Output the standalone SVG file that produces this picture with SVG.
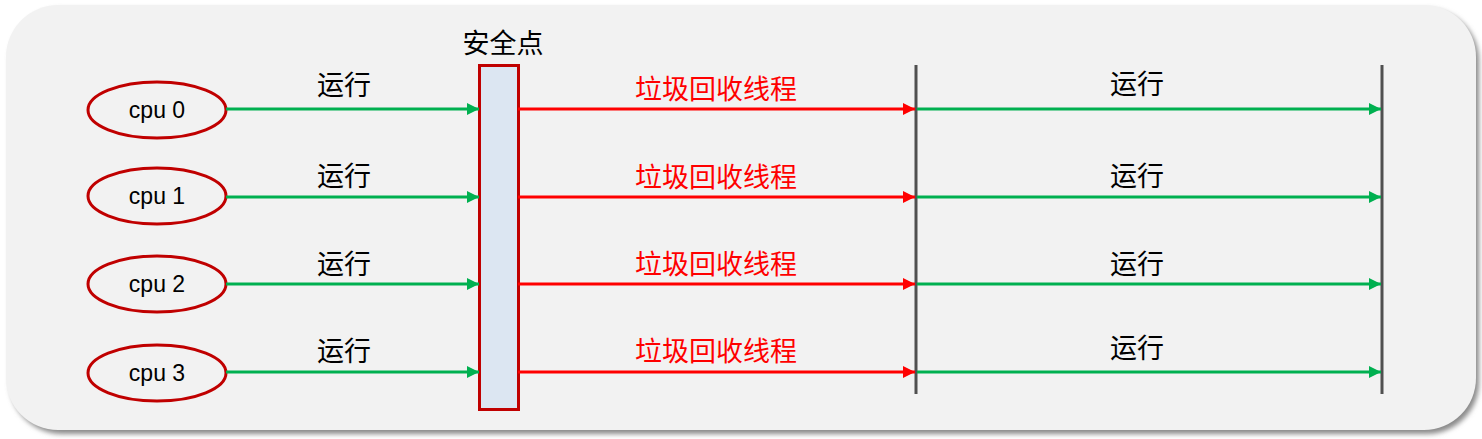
<svg xmlns="http://www.w3.org/2000/svg" width="1482" height="439" viewBox="0 0 1482 439">
<style>
.cjk{font-family:"Noto Sans CJK SC","Noto Sans CJK JP",sans-serif;font-size:27px;text-anchor:middle}
.run{fill:#000}
.gc{fill:#ff0000}
.cpu{fill:none;stroke:#c00000;stroke-width:3}
.cput{font-family:"Liberation Sans",Arial,sans-serif;font-size:23px;text-anchor:middle;fill:#000}
.g{stroke:#00b050;stroke-width:3;fill:none}
.r{stroke:#ff0000;stroke-width:3;fill:none}
.v{stroke:#505050;stroke-width:3}
</style>
<defs>
<filter id="sh" x="-5%" y="-5%" width="110%" height="115%"><feGaussianBlur stdDeviation="2.5"/></filter>
<marker id="ag" viewBox="0 0 10 10" refX="10" refY="5" markerWidth="4" markerHeight="4" orient="auto" markerUnits="strokeWidth"><path d="M0,0 L10,5 L0,10 z" fill="#00b050"/></marker>
<marker id="ar" viewBox="0 0 10 10" refX="10" refY="5" markerWidth="4" markerHeight="4" orient="auto" markerUnits="strokeWidth"><path d="M0,0 L10,5 L0,10 z" fill="#ff0000"/></marker>
</defs>
<g id="panel">
<rect x="10" y="9" width="1469" height="425" rx="52" fill="#8a8a8a" filter="url(#sh)"/>
<rect x="6" y="5" width="1470" height="425" rx="52" fill="#f2f2f2"/>
</g>
<g id="safepoint">
<rect x="479.5" y="65.5" width="39" height="344" fill="#dce6f2" stroke="#c00000" stroke-width="3"/>
<text class="cjk run" x="503" y="53">安全点</text>
</g>
<g id="barrier1"><line class="v" x1="916" y1="65" x2="916" y2="394"/></g>
<g id="barrier2"><line class="v" x1="1382" y1="65" x2="1382" y2="394"/></g>
<g id="cpu0"><ellipse class="cpu" cx="157" cy="110" rx="69" ry="28"/><text class="cput" x="157" y="118">cpu 0</text></g>
<g id="cpu1"><ellipse class="cpu" cx="157" cy="196" rx="69" ry="28"/><text class="cput" x="157" y="204">cpu 1</text></g>
<g id="cpu2"><ellipse class="cpu" cx="157" cy="284" rx="69" ry="28"/><text class="cput" x="157" y="292">cpu 2</text></g>
<g id="cpu3"><ellipse class="cpu" cx="157" cy="373" rx="69" ry="28"/><text class="cput" x="157" y="381">cpu 3</text></g>
<g id="connectors">
<line class="g" x1="226" y1="109" x2="479" y2="109" marker-end="url(#ag)"/>
<line class="g" x1="226" y1="197" x2="479" y2="197" marker-end="url(#ag)"/>
<line class="g" x1="226" y1="284" x2="479" y2="284" marker-end="url(#ag)"/>
<line class="g" x1="226" y1="372" x2="479" y2="372" marker-end="url(#ag)"/>
<line class="r" x1="518" y1="109" x2="915" y2="109" marker-end="url(#ar)"/>
<line class="r" x1="518" y1="197" x2="915" y2="197" marker-end="url(#ar)"/>
<line class="r" x1="518" y1="284" x2="915" y2="284" marker-end="url(#ar)"/>
<line class="r" x1="518" y1="372" x2="915" y2="372" marker-end="url(#ar)"/>
<line class="g" x1="917" y1="109" x2="1381" y2="109" marker-end="url(#ag)"/>
<line class="g" x1="917" y1="197" x2="1381" y2="197" marker-end="url(#ag)"/>
<line class="g" x1="917" y1="284" x2="1381" y2="284" marker-end="url(#ag)"/>
<line class="g" x1="917" y1="372" x2="1381" y2="372" marker-end="url(#ag)"/>
<text class="cjk run" x="344" y="95">运行</text>
<text class="cjk run" x="344" y="186">运行</text>
<text class="cjk run" x="344" y="274">运行</text>
<text class="cjk run" x="344" y="361">运行</text>
<text class="cjk gc" x="716" y="99">垃圾回收线程</text>
<text class="cjk gc" x="716" y="187">垃圾回收线程</text>
<text class="cjk gc" x="716" y="274">垃圾回收线程</text>
<text class="cjk gc" x="716" y="361">垃圾回收线程</text>
<text class="cjk run" x="1137" y="94">运行</text>
<text class="cjk run" x="1137" y="186">运行</text>
<text class="cjk run" x="1137" y="274">运行</text>
<text class="cjk run" x="1137" y="358">运行</text>
</g>
</svg>
